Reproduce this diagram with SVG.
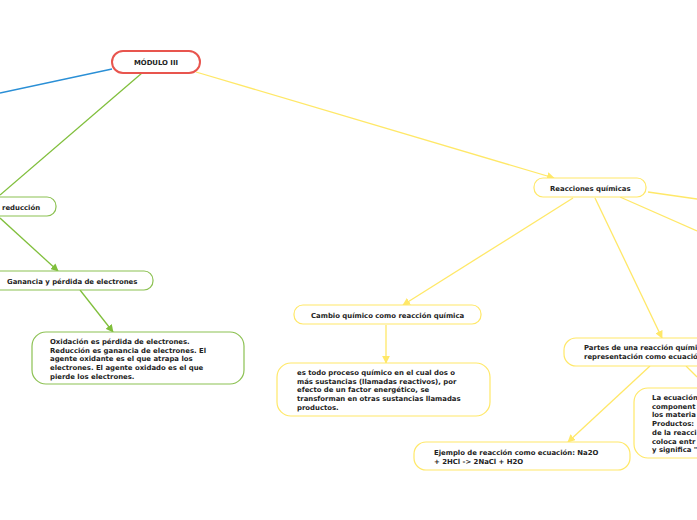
<svg xmlns="http://www.w3.org/2000/svg" width="697" height="520" viewBox="0 0 697 520">
<style>
text{font-family:"DejaVu Sans",Verdana,sans-serif;font-weight:bold;font-size:6.9px;fill:#222}
.g{fill:#fff;stroke:#8cc152;stroke-width:1.2}
.y{fill:#fff;stroke:#ffe868;stroke-width:1.2}
.cg{stroke:#80bf3c;stroke-width:1.3;fill:none}
.cy{stroke:#ffe868;stroke-width:1.3;fill:none}
</style>
<defs>
<marker id="ag" viewBox="0 0 10 10" refX="9" refY="5" markerWidth="6" markerHeight="6" orient="auto"><path d="M0,0L10,5L0,10z" fill="#80bf3c"/></marker>
<marker id="ay" viewBox="0 0 10 10" refX="9" refY="5" markerWidth="6" markerHeight="6" orient="auto"><path d="M0,0L10,5L0,10z" fill="#ffe868"/></marker>
</defs>
<rect width="697" height="520" fill="#fff"/>
<g id="connectors">
<path d="M112,69L0,93" stroke="#2a8fd6" stroke-width="1.3" fill="none"/>
<path class="cg" d="M142,73L0,195"/>
<path class="cg" d="M0,218L58,271" marker-end="url(#ag)"/>
<path class="cg" d="M80,290L113,332" marker-end="url(#ag)"/>
<path class="cy" d="M196,72L554,178" marker-end="url(#ay)"/>
<path class="cy" d="M573,198L403,305" marker-end="url(#ay)"/>
<path class="cy" d="M595,198L662,338" marker-end="url(#ay)"/>
<path class="cy" d="M648,192L697,199"/>
<path class="cy" d="M620,197L697,231"/>
<path class="cy" d="M386,325L386,363" marker-end="url(#ay)"/>
<path class="cy" d="M650,366L568,442" marker-end="url(#ay)"/>
<path class="cy" d="M686,366L697,377"/>
</g>
<g id="modulo"><rect x="112" y="51" width="88" height="22" rx="11" fill="#fff" stroke="#e8554e" stroke-width="2"/><text x="156" y="65" text-anchor="middle">MÓDULO III</text></g>
<g id="reduccion"><rect class="g" x="-40" y="197" width="96" height="19" rx="9"/><text x="2" y="210">reducción</text></g>
<g id="ganancia"><rect class="g" x="-10" y="271" width="163" height="19" rx="9"/><text x="7" y="284">Ganancia y pérdida de electrones</text></g>
<g id="oxidacion"><rect class="g" x="32" y="332" width="212" height="52" rx="14"/><text x="50" y="344">Oxidación es pérdida de electrones.<tspan x="50" dy="8.7">Reducción es ganancia de electrones. El</tspan><tspan x="50" dy="8.7">agente oxidante es el que atrapa los</tspan><tspan x="50" dy="8.7">electrones. El agente oxidado es el que</tspan><tspan x="50" dy="8.7">pierde los electrones.</tspan></text></g>
<g id="reacciones"><rect class="y" x="534" y="178" width="112" height="19" rx="9"/><text x="550" y="191">Reacciones químicas</text></g>
<g id="cambio"><rect class="y" x="294" y="305" width="187" height="19" rx="9"/><text x="311" y="318">Cambio químico como reacción química</text></g>
<g id="estodo"><rect class="y" x="277" y="363" width="213" height="53" rx="14"/><text x="297" y="375">es todo proceso químico en el cual dos o<tspan x="297" dy="8.7">más sustancias (llamadas reactivos), por</tspan><tspan x="297" dy="8.7">efecto de un factor energético, se</tspan><tspan x="297" dy="8.7">transforman en otras sustancias llamadas</tspan><tspan x="297" dy="8.7">productos.</tspan></text></g>
<g id="partes"><rect class="y" x="564" y="338" width="150" height="28" rx="12"/><text x="584" y="350">Partes de una reacción quími<tspan x="584" dy="8.7">representación como ecuació</tspan></text></g>
<g id="ecuacion"><rect class="y" x="634" y="388" width="100" height="70" rx="14"/><text x="652" y="400">La ecuación<tspan x="652" dy="8.7">component</tspan><tspan x="652" dy="8.7">los materia</tspan><tspan x="652" dy="8.7">Productos:</tspan><tspan x="652" dy="8.7">de la reacci</tspan><tspan x="652" dy="8.7">coloca entr</tspan><tspan x="652" dy="8.7">y significa "</tspan></text></g>
<g id="ejemplo"><rect class="y" x="414" y="442" width="216" height="28" rx="12"/><text x="434" y="455">Ejemplo de reacción como ecuación: Na2O<tspan x="434" dy="8.7">+ 2HCl -&gt; 2NaCl + H2O</tspan></text></g>
</svg>
